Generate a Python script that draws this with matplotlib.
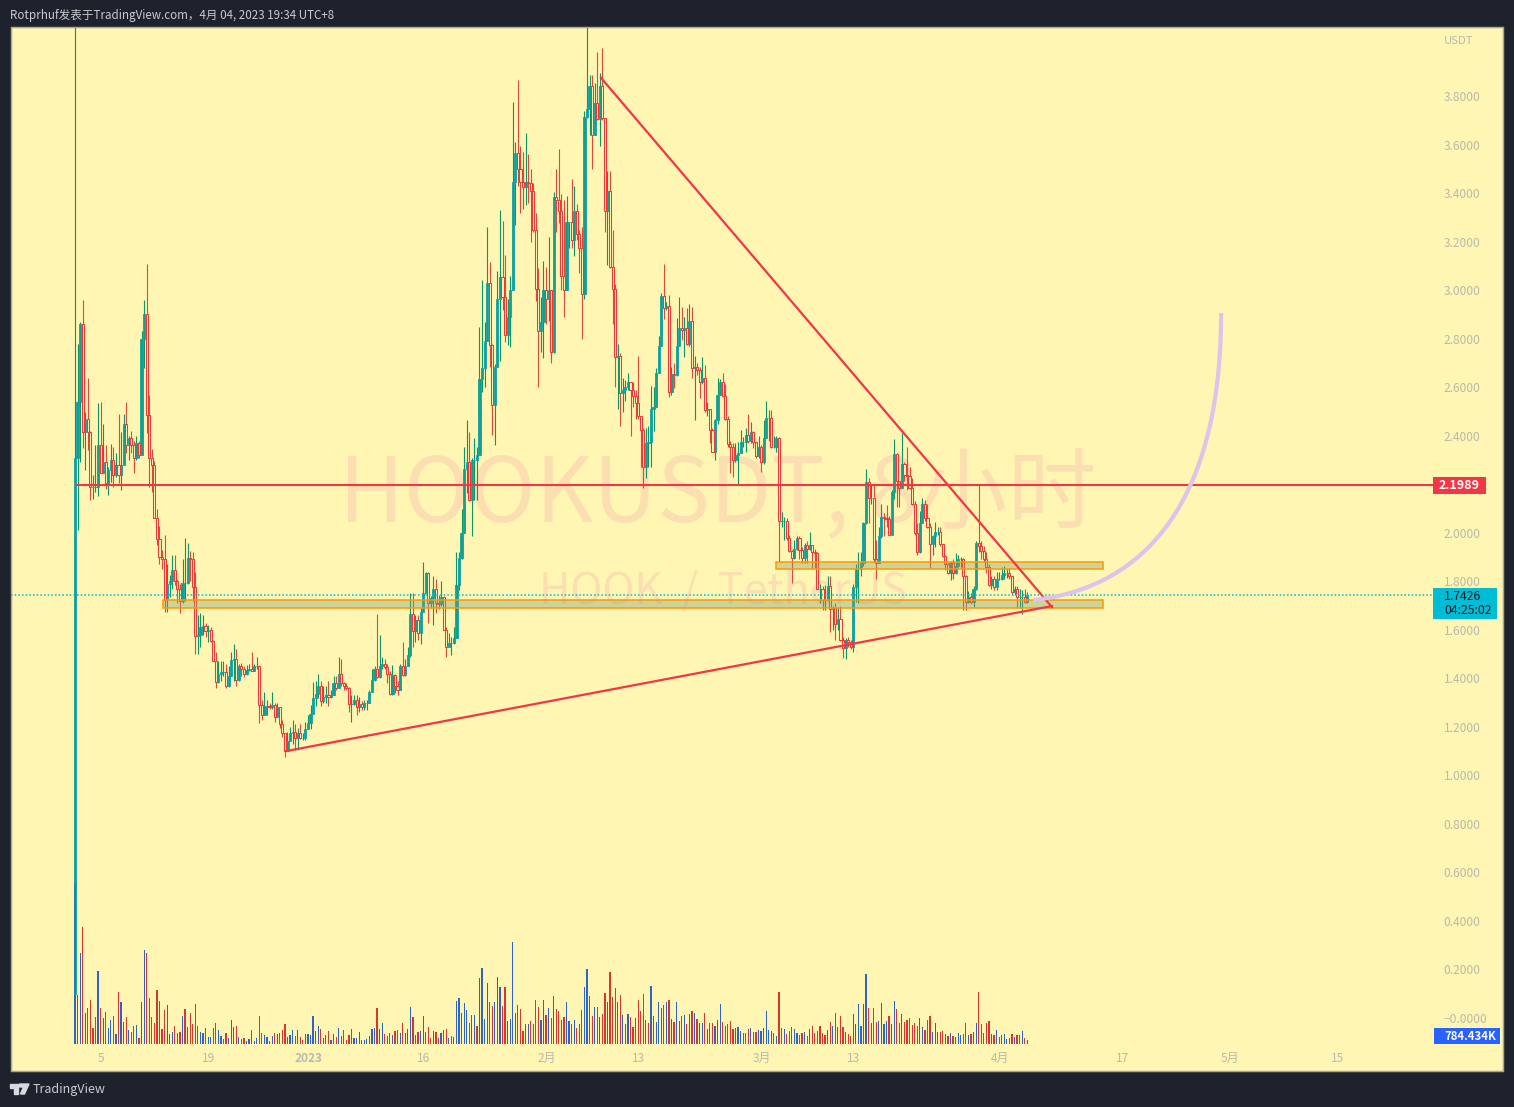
import matplotlib
matplotlib.use("Agg")
import matplotlib.pyplot as plt
import numpy as np
from matplotlib.path import Path
from matplotlib.patches import PathPatch, Polygon, Rectangle

plt.rcParams['font.family'] = ['Noto Sans CJK SC', 'DejaVu Sans']

# 8 hour bars
close = [
 2.31,2.54,2.86,2.415,2.47,2.415,2.19,2.19,2.19,2.36,
 2.245,2.29,2.205,2.26,2.30,2.24,2.28,2.24,2.28,2.45,
 2.36,2.39,2.36,2.31,2.37,2.32,2.80,2.90,2.485,2.31,
 2.28,2.06,1.975,1.90,1.89,1.725,1.79,1.80,1.845,1.80,
 1.77,1.72,1.795,1.795,1.895,1.89,1.775,1.575,1.58,1.61,
 1.615,1.595,1.60,1.555,1.47,1.385,1.42,1.425,1.425,1.37,
 1.41,1.475,1.48,1.395,1.45,1.44,1.42,1.435,1.44,1.43,
 1.45,1.45,1.29,1.25,1.285,1.285,1.28,1.29,1.24,1.28,
 1.21,1.175,1.10,1.14,1.175,1.18,1.155,1.175,1.155,1.155,
 1.19,1.215,1.255,1.32,1.335,1.37,1.305,1.325,1.33,1.325,
 1.33,1.38,1.36,1.42,1.38,1.37,1.36,1.295,1.295,1.31,
 1.28,1.295,1.28,1.30,1.30,1.345,1.395,1.44,1.405,1.45,
 1.46,1.445,1.42,1.335,1.415,1.37,1.35,1.45,1.415,1.45,
 1.495,1.665,1.595,1.64,1.585,1.675,1.75,1.835,1.71,1.73,
 1.77,1.71,1.705,1.735,1.60,1.53,1.545,1.545,1.565,1.785,
 1.895,2.00,2.265,2.29,2.135,2.30,2.30,2.32,2.635,2.68,
 2.79,3.03,2.775,2.525,2.685,2.965,3.055,2.97,2.815,2.89,
 3.00,3.445,3.565,3.50,3.445,3.425,3.445,3.44,3.41,3.25,
 3.005,2.83,2.87,3.00,2.965,3.00,2.745,3.385,3.37,3.325,
 3.06,3.00,3.28,3.28,3.205,3.325,3.23,3.175,2.985,3.715,
 3.745,3.84,3.64,3.77,3.705,3.84,3.71,3.325,3.41,3.095,
 3.005,2.725,2.73,2.575,2.59,2.60,2.62,2.59,2.565,2.535,
 2.48,2.425,2.27,2.37,2.375,2.51,2.52,2.66,2.77,2.975,
 2.925,2.935,2.58,2.655,2.65,2.77,2.845,2.835,2.845,2.78,
 2.875,2.68,2.685,2.67,2.62,2.64,2.505,2.51,2.425,2.335,
 2.465,2.57,2.62,2.565,2.47,2.365,2.355,2.30,2.32,2.33,
 2.375,2.375,2.405,2.38,2.415,2.375,2.315,2.355,2.29,2.39,
 2.475,2.475,2.355,2.355,2.39,2.05,2.05,2.05,1.98,1.925,
 1.895,1.935,1.98,1.93,1.895,1.95,1.935,1.95,1.92,1.915,
 1.77,1.77,1.725,1.725,1.78,1.685,1.69,1.625,1.645,1.56,
 1.525,1.56,1.55,1.53,1.775,1.85,1.85,1.875,2.04,2.21,
 2.145,2.145,1.89,1.875,1.985,2.065,2.06,2.055,1.99,2.17,
 2.325,2.215,2.185,2.285,2.24,2.235,2.185,2.12,2.00,1.92,
 2.04,2.12,2.06,2.025,1.955,1.985,2.005,2.005,1.955,1.905,
 1.87,1.835,1.875,1.835,1.865,1.89,1.89,1.82,1.715,1.735,
 1.715,1.77,1.96,1.945,1.925,1.89,1.86,1.785,1.81,1.775,
 1.81,1.81,1.825,1.835,1.835,1.82,1.755,1.77,1.735,1.735,
 1.735,1.715,1.7426]
high = [
 4.40,2.78,2.87,2.96,2.50,2.64,2.42,2.24,2.36,2.535,
 2.54,2.45,2.36,2.27,2.365,2.355,2.33,2.49,2.415,2.49,
 2.54,2.40,2.42,2.38,2.40,2.38,2.83,2.96,3.11,2.57,
 2.345,2.295,2.10,2.03,1.93,1.99,1.87,1.825,1.91,1.91,
 1.81,1.79,1.89,1.98,1.96,1.925,1.92,1.84,1.66,1.67,
 1.66,1.63,1.62,1.61,1.56,1.51,1.47,1.47,1.47,1.46,
 1.45,1.51,1.54,1.52,1.46,1.465,1.45,1.455,1.46,1.51,
 1.46,1.49,1.45,1.31,1.345,1.31,1.30,1.345,1.30,1.30,
 1.25,1.23,1.165,1.18,1.20,1.23,1.21,1.195,1.21,1.175,
 1.22,1.25,1.29,1.385,1.39,1.42,1.39,1.37,1.37,1.39,
 1.35,1.41,1.41,1.49,1.48,1.385,1.38,1.365,1.33,1.33,
 1.33,1.325,1.305,1.31,1.31,1.35,1.44,1.45,1.665,1.58,
 1.49,1.48,1.46,1.43,1.455,1.42,1.39,1.46,1.55,1.48,
 1.53,1.75,1.75,1.66,1.66,1.69,1.88,1.84,1.84,1.74,
 1.82,1.81,1.745,1.80,1.74,1.61,1.585,1.57,1.61,1.92,
 1.92,2.10,2.355,2.465,2.415,2.31,2.39,2.355,2.85,3.04,
 2.87,3.26,3.115,2.78,2.695,3.08,3.33,3.285,3.145,2.965,
 3.06,3.775,3.61,3.865,3.595,3.57,3.65,3.56,3.50,3.44,
 3.32,3.09,2.97,3.12,3.095,3.22,3.00,3.405,3.50,3.58,
 3.395,3.37,3.39,3.28,3.46,3.43,3.355,3.25,3.26,3.74,
 4.30,3.885,3.885,3.855,3.98,3.895,4.00,3.71,3.49,3.49,
 3.25,3.025,2.78,2.74,2.64,2.63,2.66,2.62,2.62,2.59,
 2.73,2.48,2.43,2.43,2.44,2.605,2.60,2.68,2.81,2.99,
 3.11,2.95,2.98,2.685,2.70,2.885,2.97,2.93,2.89,2.925,
 2.945,2.93,2.73,2.70,2.685,2.725,2.69,2.54,2.51,2.43,
 2.47,2.64,2.635,2.66,2.615,2.48,2.38,2.37,2.37,2.375,
 2.425,2.395,2.43,2.49,2.455,2.42,2.375,2.40,2.36,2.465,
 2.545,2.505,2.505,2.40,2.40,2.395,2.085,2.065,2.06,1.99,
 1.93,1.97,1.985,1.985,1.94,1.96,1.965,2.005,1.94,1.935,
 1.92,1.79,1.78,1.785,1.82,1.82,1.70,1.71,1.695,1.70,
 1.57,1.565,1.57,1.56,1.79,1.87,1.92,1.92,2.045,2.265,
 2.225,2.195,2.20,1.97,2.025,2.12,2.08,2.115,2.07,2.175,
 2.385,2.33,2.215,2.41,2.29,2.355,2.27,2.225,2.13,2.04,
 2.09,2.145,2.135,2.12,2.04,1.99,2.045,2.025,2.025,1.955,
 1.91,1.875,1.885,1.89,1.915,1.91,1.90,1.895,1.825,1.76,
 1.75,1.78,1.965,2.20,1.965,1.945,1.92,1.87,1.82,1.82,
 1.84,1.84,1.86,1.865,1.85,1.855,1.82,1.78,1.78,1.77,
 1.765,1.77,1.755]
low = [
 0.10,2.01,2.29,2.35,2.26,2.34,2.135,2.14,2.17,2.15,
 2.245,2.245,2.18,2.155,2.21,2.19,2.23,2.205,2.175,2.28,
 2.33,2.30,2.33,2.245,2.30,2.31,2.32,2.68,2.41,2.19,
 2.17,2.06,1.95,1.87,1.85,1.675,1.675,1.735,1.77,1.785,
 1.71,1.67,1.71,1.72,1.79,1.80,1.72,1.50,1.50,1.53,
 1.58,1.57,1.55,1.55,1.47,1.36,1.38,1.39,1.41,1.36,
 1.365,1.41,1.39,1.37,1.39,1.41,1.405,1.415,1.43,1.43,
 1.43,1.44,1.215,1.23,1.25,1.25,1.275,1.275,1.22,1.24,
 1.195,1.16,1.075,1.10,1.14,1.13,1.105,1.105,1.15,1.145,
 1.145,1.19,1.19,1.27,1.285,1.32,1.285,1.30,1.30,1.285,
 1.32,1.33,1.35,1.36,1.37,1.35,1.35,1.26,1.22,1.29,
 1.25,1.26,1.27,1.27,1.27,1.30,1.345,1.39,1.40,1.40,
 1.44,1.44,1.38,1.33,1.33,1.34,1.33,1.35,1.41,1.41,
 1.45,1.49,1.53,1.55,1.56,1.54,1.675,1.75,1.63,1.69,
 1.62,1.67,1.685,1.70,1.60,1.49,1.53,1.495,1.54,1.565,
 1.765,1.89,2.00,2.165,2.13,1.985,2.135,2.135,2.32,2.58,
 2.60,2.79,2.685,2.405,2.36,2.685,2.71,2.92,2.785,2.775,
 2.765,3.00,3.27,3.43,3.32,3.335,3.35,3.36,3.20,3.24,
 2.955,2.60,2.745,2.72,2.86,2.875,2.70,2.74,3.24,3.275,
 3.00,2.89,3.00,3.175,3.175,3.14,3.205,3.07,2.80,2.965,
 3.71,3.64,3.50,3.64,3.70,3.595,3.70,3.24,3.105,3.09,
 2.86,2.60,2.51,2.44,2.50,2.545,2.59,2.40,2.52,2.47,
 2.47,2.27,2.185,2.225,2.27,2.27,2.42,2.60,2.665,2.77,
 2.88,2.92,2.56,2.57,2.595,2.645,2.77,2.795,2.725,2.775,
 2.77,2.64,2.465,2.65,2.555,2.615,2.50,2.48,2.37,2.335,
 2.30,2.45,2.57,2.56,2.465,2.355,2.245,2.23,2.29,2.195,
 2.33,2.355,2.335,2.37,2.37,2.35,2.31,2.31,2.25,2.285,
 2.39,2.38,2.35,2.35,2.335,1.88,2.025,1.97,1.97,1.92,
 1.795,1.89,1.93,1.89,1.875,1.875,1.875,1.93,1.85,1.855,
 1.77,1.71,1.68,1.68,1.72,1.59,1.60,1.56,1.60,1.555,
 1.485,1.48,1.53,1.52,1.51,1.715,1.71,1.82,1.865,2.035,
 2.04,2.12,1.88,1.81,1.875,1.98,1.985,2.025,1.99,1.99,
 2.14,2.105,2.105,2.185,2.215,2.175,2.18,2.115,1.99,1.91,
 1.915,2.045,2.05,2.02,1.855,1.91,1.94,1.99,1.945,1.90,
 1.845,1.83,1.805,1.81,1.83,1.86,1.86,1.68,1.68,1.71,
 1.705,1.695,1.765,1.92,1.89,1.88,1.835,1.78,1.77,1.765,
 1.765,1.805,1.805,1.81,1.815,1.81,1.745,1.745,1.695,1.69,
 1.665,1.71,1.71]
# volume in millions
volume = [
 31.4,9.6,17.7,22.9,6.0,7.1,8.5,3.1,5.2,14.3,
 7.0,5.1,6.3,3.1,4.6,5.5,1.9,10.1,8.1,4.2,
 5.3,2.7,2.3,3.6,3.8,1.1,8.1,18.3,17.7,9.0,
 5.3,4.0,10.5,8.3,3.0,6.6,7.6,1.9,2.3,3.5,
 2.1,2.3,5.5,6.8,3.4,6.1,3.9,7.8,3.6,2.3,
 2.1,3.1,1.4,1.4,3.1,4.1,2.7,1.6,1.0,2.1,
 1.2,4.7,3.3,3.5,1.4,1.0,1.2,0.6,1.0,2.7,
 0.6,1.2,5.5,2.1,1.8,1.4,0.6,1.6,2.1,2.0,
 2.1,2.7,3.9,1.4,1.8,2.7,1.6,2.7,1.4,0.7,
 2.0,2.0,1.8,5.5,2.5,3.5,2.9,1.2,1.8,2.5,
 0.8,2.0,1.4,3.1,1.6,2.7,0.8,1.8,2.9,1.2,
 1.2,2.3,0.8,0.8,1.0,1.6,2.9,3.1,7.0,2.9,
 4.1,2.0,1.6,2.1,1.8,2.5,2.7,2.1,4.1,2.1,
 2.9,7.2,5.3,1.8,2.3,2.5,5.5,2.3,3.3,1.2,
 2.5,2.3,1.2,2.1,2.7,2.9,1.2,1.6,1.4,8.4,
 9.0,6.0,8.0,6.6,4.1,5.7,5.7,3.5,12.9,14.8,
 4.9,11.9,8.2,7.4,8.2,13.1,11.1,7.5,11.2,4.4,
 4.9,19.8,6.1,7.6,6.8,2.5,3.9,3.9,4.4,3.9,
 8.5,7.2,4.6,8.6,5.7,7.0,5.1,9.4,6.8,6.4,
 4.7,5.3,8.2,4.5,3.9,4.7,3.1,3.9,6.6,11.2,
 14.6,9.4,5.5,7.2,7.2,5.3,5.9,9.9,8.2,14.0,
 9.2,10.9,8.2,9.6,5.7,3.9,5.9,5.3,3.3,5.1,
 8.6,6.4,9.8,4.7,4.1,11.3,5.5,4.3,8.2,7.0,
 7.6,8.2,8.6,4.9,4.3,8.2,4.5,5.5,5.7,3.9,
 5.9,6.4,6.0,4.9,4.1,4.1,6.0,2.9,4.1,4.1,
 3.5,4.7,7.8,4.3,3.5,3.9,4.5,2.9,3.1,3.3,
 2.5,2.1,2.1,2.9,3.1,2.3,2.3,2.7,2.5,3.1,
 6.4,2.7,2.5,2.1,1.6,10.1,3.1,2.9,2.0,2.5,
 3.3,2.9,2.1,1.8,2.1,2.3,1.6,2.9,3.5,2.1,
 2.5,3.5,2.1,1.8,2.7,4.3,3.5,6.0,3.3,5.5,
 3.3,2.3,2.0,1.6,5.9,3.9,7.8,3.5,7.8,13.7,
 7.0,4.1,7.0,4.3,4.5,8.0,3.9,4.5,5.5,3.9,
 8.4,6.8,4.1,5.9,4.3,4.7,5.1,3.7,4.1,3.5,
 5.1,3.3,2.7,4.7,5.5,2.3,4.1,2.3,2.3,2.5,
 2.0,1.6,2.1,1.6,1.4,2.1,1.8,2.0,4.1,1.8,
 2.0,2.3,4.1,10.1,3.9,2.1,4.1,4.5,2.0,1.8,
 2.7,1.4,1.8,2.0,1.0,1.2,2.0,1.4,1.8,1.8,
 2.5,1.2,0.784]
# u = blue volume bar, d = red
vol_dir = (
 "uuududdddu" "duduududuu" "dudduduudd" "dddddduuud" "ddududdddu"
 "uduudduudd" "uuududduud" "uudduududu" "ddduuududd" "uuuuuuduud"
 "uududddddu" "uuduuuuudu" "uddduddudu" "uuddduuudd" "uddudduduu"
 "uuuuduuduu" "uudduuuddu" "uuuddduudd" "dduudududd" "dduududddu"
 "uudududdud" "dduduuuddd" "ddduduuuuu" "dududuudud" "ududuududd"
 "uuuddddduu" "uddduddu" "uu" "uuududdudd" "duuddududd" "ddddududud"
 "dudduuuuuu" "dudduuuudu" "uddudddddd" "uuddduuudd" "dduduuuddu"
 "duudddddud" "uduuuududd" "udu"
)

x_ticks_days = [0, 14, 27, 42, 58, 70, 86, 98, 117, 133, 147, 161]   # days after 5 Dec
x_tick_labels = ['5', '19', '2023', '16', '2月', '13', '3月', '13', '4月', '17', '5月', '15']
y_ticks = [0.2 * k for k in range(1, 20) if k != 11]   # 2.2 sits under the red label
last_price = 1.7426
resistance = 2.1989

W, H = 1514, 1107
BG = '#1e222d'
PANEL = '#fff6b4'
UP, DOWN = '#12a08c', '#f23645'
UP_WICK, DOWN_WICK = '#0c9668', '#dc4a3c'
GRAY = '#b9b9ac'
WM = '#fbdfb0'

# bar spacing and price scale of the panel
PX_BAR = 2.56
PX_PRICE = 242.6
PX_VOL = 5.13
L, R, T, B = 11, 1503, 27, 1071

fig = plt.figure(figsize=(W / 100, H / 100), dpi=100, facecolor=BG)
ax = fig.add_axes([L / W, 1 - B / H, (R - L) / W, (B - T) / H])
ax.set_xlim((L - 75) / PX_BAR, (R - 75) / PX_BAR)
ax.set_ylim((1018 - B) / PX_PRICE, (1018 - T) / PX_PRICE)

xs = np.arange(len(close))
closes = np.array(close)
opens = np.concatenate([[low[0]], closes[:-1]])
highs = np.maximum(high, np.maximum(opens, closes))
lows = np.minimum(low, np.minimum(opens, closes))
is_up = closes >= opens

# volume on its own scale, baseline near the bottom of the panel
axv = ax.twinx()
axv.set_ylim(-(B - 1044) / PX_VOL, (1044 - T) / PX_VOL)
axv.axis('off')
axv.set_zorder(0)
ax.set_zorder(1)
ax.patch.set_visible(False)
fig.patches.append(Rectangle((L / W, 1 - B / H), (R - L) / W, (B - T) / H, transform=fig.transFigure,
                             facecolor=PANEL, edgecolor='#a8a690', linewidth=1, zorder=-5))

# watermark
axv.text(0.4735, 0.5507, 'HOOKUSDT, 8小时', transform=axv.transAxes,
         ha='center', va='center', fontsize=64, color=WM, zorder=0)
axv.text(0.4775, 0.4590, 'HOOK  /  TetherUS', transform=axv.transAxes,
         ha='center', va='center', fontsize=31, color=WM, zorder=0)

vol_colors = ['#2f63c4' if c == 'u' else '#d8362e' for c in vol_dir]
vol_width = [0.95] + [0.48] * (len(volume) - 1)
axv.bar(xs, volume, width=vol_width, color=vol_colors, linewidth=0, zorder=2)

# candles
wicks_up = ax.vlines(xs[is_up], lows[is_up], highs[is_up], color=UP_WICK, linewidth=0.8, zorder=2)
wicks_down = ax.vlines(xs[~is_up], lows[~is_up], highs[~is_up], color=DOWN_WICK, linewidth=0.8, zorder=2)
wicks_up.set_snap(True)
wicks_down.set_snap(True)
ax.bar(xs[is_up], (closes - opens)[is_up], bottom=opens[is_up], width=0.85,
       facecolor=UP, edgecolor='#10a3a6', linewidth=0.6, zorder=3)
ax.bar(xs[~is_up], (opens - closes)[~is_up], bottom=closes[~is_up], width=0.85,
       facecolor=PANEL, edgecolor='#ee3a36', linewidth=0.75, zorder=3)

# the first volume bar shows through the first candle
vol_top = (1018 - (1044 - volume[0] * PX_VOL)) / PX_PRICE
ax.bar(xs[0], vol_top - low[0], bottom=low[0], width=0.95, color='#2f63c4', alpha=0.5,
       linewidth=0, zorder=3.5)

# supply / demand zones
for x0, x1, y0, y1 in [(34.4, 401.6, 1.69, 1.723), (273.8, 401.6, 1.851, 1.88)]:
    ax.add_patch(Rectangle((x0, y0), x1 - x0, y1 - y0, facecolor=(0.5, 0.63, 0.47, 0.4),
                           edgecolor='#ff9800', linewidth=1.1, zorder=4))

# trend lines
ax.plot([205.5, 381.6], [3.875, 1.694], color=DOWN, linewidth=1.6, zorder=5)
ax.plot([82.4, 381.6], [1.10, 1.698], color=DOWN, linewidth=1.6, zorder=5)
ax.plot([0.8, 530.5], [resistance, resistance], color=DOWN, linewidth=1.5, zorder=5)
ax.plot([-25, 530.5], [last_price, last_price], color='#00bcd4', linewidth=1.1,
        linestyle=(0, (1, 1.4)), zorder=5)

# projected curve
curve = Path([(374.2, 1.723), (412.1, 1.764), (447.7, 2.053), (447.7, 2.906)],
             [Path.MOVETO, Path.CURVE4, Path.CURVE4, Path.CURVE4])
ax.add_patch(PathPatch(curve, facecolor='none', edgecolor='#dcc4ea', linewidth=3, zorder=6))

# axes
ax.set_xticks([10.2 + 3 * d for d in x_ticks_days], x_tick_labels)
ax.yaxis.tick_right()
ax.set_yticks(y_ticks + [0.0], [f'{v:.4f}' for v in y_ticks] + ['−0.0000'])
ax.tick_params(axis='x', length=0, pad=-13.5, labelsize=8.6, labelcolor=GRAY)
ax.tick_params(axis='y', length=0, pad=-42.8, labelsize=8.6, labelcolor=GRAY)
for lab in ax.get_yticklabels():
    lab.set_horizontalalignment('left')
for lab in ax.get_xticklabels():
    if lab.get_text() == '2023':
        lab.set_fontweight('bold')
for s in ax.spines.values():
    s.set_color('#a8a690')
    s.set_linewidth(0.8)

# overlay in pixel coordinates for the chrome around the chart
ov = fig.add_axes([0, 0, 1, 1], facecolor='none', zorder=10)
ov.set_xlim(0, W)
ov.set_ylim(H, 0)
ov.axis('off')

ov.text(10, 15, 'Rotprhuf发表于TradingView.com，4月 04, 2023 19:34 UTC+8', color='#c9cbd1',
        fontsize=8.35, va='center', ha='left')
ov.text(33, 1090, 'TradingView', color='#c9cbd1', fontsize=9, va='center', ha='left')
ov.add_patch(Polygon([(10, 1084), (18, 1084), (18, 1094), (14, 1094), (14, 1088), (10, 1088)], color='#d8d9dc'))
ov.add_patch(Polygon([(19.5, 1084), (29, 1084), (24.5, 1094), (20.5, 1094), (23.5, 1087), (19.5, 1087)], color='#d8d9dc'))

ov.text(1444, 41, 'USDT', color=GRAY, fontsize=8.2, va='center', ha='left')

ov.add_patch(Rectangle((1433, 477), 53, 17, facecolor='#f23645', edgecolor='none'))
ov.text(1459.5, 485.5, f'{resistance:.4f}', color='white', fontsize=9, fontweight='bold', va='center', ha='center')

ov.add_patch(Rectangle((1433, 588), 64, 31, facecolor='#00bcd4', edgecolor='none'))
ov.text(1444, 597, f'{last_price:.4f}', color='#131722', fontsize=8.8, va='center', ha='left')
ov.text(1444, 611, '04:25:02', color='#131722', fontsize=8.8, va='center', ha='left')

ov.add_patch(Rectangle((1434, 1028), 66, 16, facecolor='#2962ff', edgecolor='none'))
ov.text(1444, 1036.5, '784.434K', color='white', fontsize=8.2, fontweight='bold', va='center', ha='left')

fig.savefig('out.png', dpi=100, facecolor=BG)
